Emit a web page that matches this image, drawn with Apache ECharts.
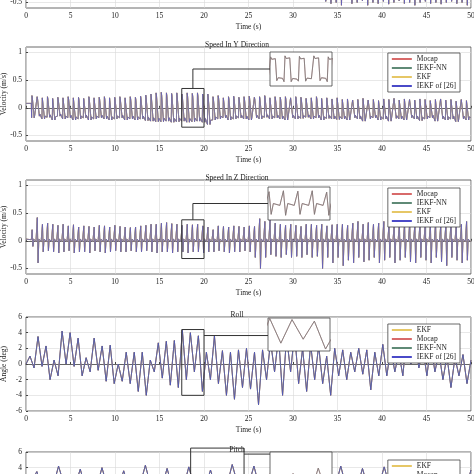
<!DOCTYPE html>
<html><head><meta charset="utf-8">
<script src="https://cdn.jsdelivr.net/npm/echarts@6/dist/echarts.min.js"></script>
<style>html,body{margin:0;padding:0;background:#fff;overflow:hidden}#c{width:474px;height:640px;margin-top:-100px}</style>
</head><body><div id="c"></div>
<script>
// x speed (only the bottom of that panel is in view)
const xPeak = [0.3,0.32,0.28,0.3,0.33,0.3,0.29,0.31,0.3,0.28,0.32,0.3,0.31,0.29,0.3,0.3,0.32,0.3,0.28,0.31,0.3,0.29,0.3,0.32,0.3,0.31,0.3,0.29,0.3,0.31,0.3,0.28,0.3,0.32,0.3,0.31,0.29,0.3,0.3,0.31,0.3,0.32,0.3,0.3,0.31,0.29,0.3,0.3,0.31,0.3,0.29,0.3,0.32,0.3,0.3,0.31,0.29,0.3,0.31,0.3,0.3,0.29,0.3,0.31,0.3,0.3,0.32,0.3,0.29,0.3,0.31,0.3,0.3,0.29,0.3,0.31,0.3,0.3,0.29,0.3,0.31,0.3,0.3,0.29];
const xDip = [-0.3,-0.28,-0.3,-0.32,-0.3,-0.29,-0.3,-0.31,-0.3,-0.28,-0.3,-0.32,-0.3,-0.3,-0.29,-0.31,-0.3,-0.3,-0.28,-0.3,-0.32,-0.3,-0.31,-0.3,-0.3,-0.29,-0.3,-0.31,-0.3,-0.3,-0.32,-0.3,-0.29,-0.3,-0.31,-0.3,-0.3,-0.32,-0.3,-0.3,-0.3,-0.31,-0.3,-0.3,-0.3,-0.32,-0.3,-0.3,-0.31,-0.3,-0.3,-0.3,-0.3,-0.3,-0.3,-0.3,-0.48,-0.52,-0.5,-0.55,-0.45,-0.52,-0.5,-0.47,-0.55,-0.5,-0.52,-0.48,-0.53,-0.5,-0.47,-0.52,-0.5,-0.55,-0.5,-0.48,-0.52,-0.5,-0.53,-0.5,-0.48,-0.52,-0.5,-0.55];
// speed in Y direction: plateau highs and lows per gait cycle
const yHigh = [0.22,0.2,0.18,0.2,0.17,0.19,0.18,0.2,0.18,0.19,0.17,0.2,0.18,0.19,0.2,0.18,0.19,0.2,0.18,0.2,0.19,0.21,0.23,0.25,0.27,
  0.28,0.27,0.26,0.27,0.25,0.27,0.26,0.27,0.25,
  0.25,0.2,0.22,0.18,0.2,0.21,0.19,0.2,0.21,0.19,0.2,0.22,0.18,0.2,0.19,0.2,0.18,0.2,0.19,0.17,0.18,0.2,0.17,0.18,0.16,0.18,
  0.15,0.16,0.14,0.15,0.17,0.14,0.15,0.13,0.16,0.15,0.17,0.14,0.16,0.15,0.14,0.16,0.15,0.13,0.15,0.16,0.14,0.15,0.12,0.15,0.13];
const yLow = [-0.18,-0.15,-0.2,-0.17,-0.22,-0.15,-0.2,-0.18,-0.22,-0.2,-0.18,-0.22,-0.2,-0.18,-0.2,-0.22,-0.2,-0.18,-0.22,-0.2,-0.22,-0.2,-0.23,-0.24,-0.25,
  -0.25,-0.24,-0.26,-0.25,-0.24,-0.26,-0.25,-0.24,-0.26,
  -0.3,-0.22,-0.2,-0.18,-0.22,-0.2,-0.18,-0.2,-0.22,-0.18,-0.2,-0.17,-0.2,-0.18,-0.2,-0.22,-0.18,-0.2,-0.19,-0.17,-0.2,-0.18,-0.22,-0.19,-0.2,-0.21,
  -0.2,-0.22,-0.18,-0.2,-0.24,-0.2,-0.18,-0.22,-0.2,-0.24,-0.19,-0.2,-0.22,-0.18,-0.2,-0.23,-0.2,-0.18,-0.24,-0.2,-0.22,-0.2,-0.25,-0.2,-0.22];
// speed in Z direction: spike peaks and dips per cycle
const zPeak = [0.2,0.42,0.3,0.32,0.3,0.28,0.3,0.27,0.29,0.25,0.27,0.26,0.25,0.28,0.27,0.25,0.28,0.26,0.25,0.24,0.25,0.27,0.28,0.3,0.3,
  0.32,0.33,0.31,0.3,0.28,0.3,0.29,0.3,0.27,
  0.25,0.2,0.27,0.26,0.25,0.27,0.26,0.25,0.27,0.26,0.4,0.35,0.38,0.32,0.3,0.28,0.3,0.28,0.26,0.3,0.3,0.28,0.3,0.27,0.29,0.3,
  0.3,0.28,0.32,0.35,0.3,0.33,0.3,0.32,0.35,0.3,0.28,0.32,0.3,0.33,0.3,0.35,0.3,0.3,0.32,0.28,0.3,0.35,0.3,0.3,0.35];
const zDip = [-0.1,-0.4,-0.2,-0.18,-0.2,-0.22,-0.2,-0.18,-0.22,-0.2,-0.2,-0.22,-0.18,-0.2,-0.22,-0.2,-0.18,-0.2,-0.2,-0.18,-0.2,-0.2,-0.18,-0.2,-0.22,
  -0.2,-0.2,-0.22,-0.2,-0.2,-0.22,-0.2,-0.2,-0.22,
  -0.2,-0.2,-0.18,-0.2,-0.22,-0.2,-0.2,-0.18,-0.2,-0.3,-0.5,-0.3,-0.25,-0.28,-0.3,-0.25,-0.3,-0.28,-0.3,-0.25,-0.3,-0.28,-0.5,-0.3,-0.4,-0.3,
  -0.45,-0.35,-0.4,-0.3,-0.38,-0.35,-0.3,-0.4,-0.35,-0.3,-0.4,-0.35,-0.3,-0.38,-0.4,-0.3,-0.35,-0.4,-0.3,-0.38,-0.45,-0.3,-0.35,-0.4,-0.35];
// roll angle extrema, alternating
const rollExt = [0,1,-0.5,3.5,-0.3,2.3,-2,0.5,-1.5,4.2,0,4,-0.3,3.3,-1.5,0.8,-1,3.3,-0.8,2.3,-2.2,2.4,-2.5,0,-2.2,1.5,-2.5,1.5,-3.5,1.5,-4,0.5,-1,2.7,-1.8,2.9,-2.7,3,-3,4.3,-2,4,-1,3.6,-3.5,1.5,-2,3.6,-2.5,
  1.7,-4,1.5,-4.5,1.8,-3,2,-3.2,1.5,-5.2,1.8,-2,2.9,-1,3.5,-4,3.5,-1,4,-2.5,2,-3.5,2.5,-2,2.3,-2.5,1,-4,2,-1.5,1.8,-2,1.5,-1,2,-1.3,1.8,-3.3,1.5,
  -1.5,2.5,-1.5,2,-1,1.5,-1.5,4,0,3.5,-0.5,2,-1.5,2.5,-1,1.5,-2,1,-3,0.8,-1.5,1.2,-2.5,0.5];
// pitch angle extrema, alternating (mostly out of view)
const pitchExt = [1,3.5,-1,4.2,-0.5,3.8,-1.2,4,-1,3.6,-0.8,4.3,-1,3.9,-1.2,4.1,-0.9,3.7,-1,4.4,-0.6,4.2,-1.1,4.5,-1,4,-0.8,3.8,-1,4.2,-1.2,3.9,-1,4.1,-0.7,3.8,-1,4,-0.9,4.3,-1,3.7];
const velTicks = [-0.5, 0, 0.5, 1];
const angTicks = [-6, -4, -2, 0, 2, 4, 6];
const names = ['Mocap', 'IEKF-NN', 'EKF', 'IEKF of [26]'];
const colors = { 'Mocap': '#d86a6a', 'IEKF-NN': '#5f8a76', 'EKF': '#e6c766', 'IEKF of [26]': '#4a4ac8' };

function squareWave(hi, lo, t0, t1) {
  const n = Math.min(hi.length, lo.length), P = (t1 - t0) / n, pts = [[0, 0.08], [t0, 0.08]];
  for (let i = 0; i < n; i++) {
    const t = t0 + i * P;
    pts.push([t + 0.05 * P, lo[i]], [t + 0.12 * P, hi[i]], [t + 0.2 * P, hi[i] * 0.8], [t + 0.45 * P, hi[i] * 0.85],
      [t + 0.55 * P, lo[i]], [t + 0.65 * P, lo[i] * 0.75], [t + 0.95 * P, lo[i] * 0.8]);
  }
  return pts;
}
function spikes(pk, dp, t0, t1) {
  const n = Math.min(pk.length, dp.length), P = (t1 - t0) / n, pts = [[0, 0.03]];
  for (let i = 0; i < n; i++) {
    const t = t0 + i * P;
    pts.push([t, 0.02], [t + 0.15 * P, pk[i]], [t + 0.3 * P, dp[i]], [t + 0.45 * P, 0.03], [t + 0.9 * P, -0.01]);
  }
  return pts;
}
function zigzag(ext) {
  return ext.map((v, i) => [i * 50 / (ext.length - 1), v]);
}

const OFF = 100; // div is shifted up by this much so the top panel can be partly shown
const panels = [
  { title: '', top: 8 - 94, min: -0.6, max: 1.1, ticks: velTicks, yname: '', data: spikes(xPeak, xDip, 0.5, 50), order: names },
  { title: 'Speed In Y Direction', top: 47, min: -0.6, max: 1.1, ticks: velTicks, yname: 'Velocity (m/s)', data: squareWave(yHigh, yLow, 0.6, 50), order: names,
    box: [17.5, 20, -0.35, 0.35], inset: [270, 52, 62, 34], legendTop: 53 },
  { title: 'Speed In Z Direction', top: 180, min: -0.6, max: 1.1, ticks: velTicks, yname: 'Velocity (m/s)', data: spikes(zPeak, zDip, 0.6, 50), order: names,
    box: [17.5, 20, -0.32, 0.38], inset: [268, 187, 62, 33], legendTop: 188 },
  { title: 'Roll', top: 317, min: -6, max: 6, ticks: angTicks, yname: 'Angle (deg)', data: zigzag(rollExt), order: ['EKF', 'Mocap', 'IEKF-NN', 'IEKF of [26]'],
    box: [17.5, 20, -4, 4.4], inset: [268, 318, 62, 33], legendTop: 324, side: true },
  { title: 'Pitch', top: 452, min: -6, max: 6, ticks: angTicks, yname: 'Angle (deg)', data: zigzag(pitchExt), order: ['EKF', 'Mocap', 'IEKF-NN', 'IEKF of [26]'],
    box: [18.5, 24.5, 2.2, 6.5], inset: [270, 452, 62, 33], legendTop: 460, side: true }
];

const font = 'Liberation Serif';
const H = 94;
const option = { animation: false, title: [], grid: [], xAxis: [], yAxis: [], series: [], legend: [] };
panels.forEach(p => {
  option.grid.push({ left: 26, right: 3, top: p.top + OFF, height: H, show: true, borderColor: '#444', borderWidth: 0.8, outerBoundsMode: 'none' });
  const gi = option.grid.length - 1;
  option.xAxis.push({ type: 'value', gridIndex: gi, min: 0, max: 50, interval: 5,
    axisLine: { lineStyle: { color: '#444', width: 0.8 } }, axisTick: { inside: true, length: 2, lineStyle: { color: '#444' } },
    axisLabel: { fontFamily: font, fontSize: 7.5, color: '#222', margin: 4, showMaxLabel: true },
    splitLine: { lineStyle: { color: '#d8d8d8', width: 0.6 } },
    name: 'Time (s)', nameLocation: 'middle', nameGap: 15, nameMoveOverlap: false, nameTextStyle: { fontFamily: font, fontSize: 7.5, color: '#222' } });
  option.yAxis.push({ type: 'value', gridIndex: gi, min: p.min, max: p.max,
    axisLine: { show: false }, axisTick: { inside: true, length: 2, customValues: p.ticks, lineStyle: { color: '#444' } },
    axisLabel: { fontFamily: font, fontSize: 7.5, color: '#222', margin: 4, customValues: p.ticks },
    splitLine: { lineStyle: { color: '#d8d8d8', width: 0.6 } },
    name: p.yname, nameLocation: 'middle', nameGap: 18, nameMoveOverlap: false, nameTextStyle: { fontFamily: font, fontSize: 7.5, color: '#222' } });
  if (p.title) option.title.push({ text: p.title, left: 'center', top: p.top + OFF - 11, textStyle: { fontFamily: font, fontSize: 7.5, fontWeight: 'normal', color: '#222' } });
  p.order.forEach(n => {
    option.series.push({ name: n, type: 'line', xAxisIndex: gi, yAxisIndex: gi, data: p.data, showSymbol: false,
      lineStyle: { width: n === 'IEKF of [26]' ? 0.6 : 0.8, color: colors[n] }, itemStyle: { color: colors[n] }, z: n === 'IEKF of [26]' ? 3 : 2 });
  });
  if (p.legendTop) {
    option.legend.push({ data: p.order, orient: 'vertical', right: 14, top: p.legendTop + OFF, itemWidth: 20, itemHeight: 2, itemGap: 1,
      padding: [2, 4, 2, 4], borderColor: '#444', borderWidth: 0.8, backgroundColor: '#fff', icon: 'rect', z: 20,
      textStyle: { fontFamily: font, fontSize: 7.5, color: '#222' } });
  }
  if (p.inset) {
    const [ix, iy, iw, ih] = p.inset;
    option.grid.push({ left: ix, top: iy + OFF, width: iw, height: ih, show: true, backgroundColor: '#fff', borderColor: '#444', borderWidth: 0.8, z: 10, outerBoundsMode: 'none' });
    const ii = option.grid.length - 1;
    option.xAxis.push({ type: 'value', gridIndex: ii, min: p.box[0], max: p.box[1], show: false });
    option.yAxis.push({ type: 'value', gridIndex: ii, min: p.box[2], max: p.box[3], show: false });
    ['Mocap', 'IEKF of [26]'].forEach(n => {
      option.series.push({ name: n, type: 'line', xAxisIndex: ii, yAxisIndex: ii, data: p.data, showSymbol: false, z: 11,
        lineStyle: { width: 0.8, color: n === 'Mocap' ? '#c99' : '#777' } });
    });
  }
});

const chart = echarts.init(document.getElementById('c'));
chart.setOption(option);

// zoom boxes and their connector lines
const graphic = [];
let gi = 0;
panels.forEach(p => {
  const mainIdx = gi;
  gi += p.inset ? 2 : 1;
  if (!p.box) return;
  const a = chart.convertToPixel({ gridIndex: mainIdx }, [p.box[0], p.box[3]]);
  const b = chart.convertToPixel({ gridIndex: mainIdx }, [p.box[1], p.box[2]]);
  graphic.push({ type: 'rect', shape: { x: a[0], y: a[1], width: b[0] - a[0], height: b[1] - a[1] }, z: 15,
    style: { fill: 'none', stroke: '#333', lineWidth: 1 } });
  const [ix, iy, iw, ih] = p.inset;
  let pts;
  if (p.side) pts = [[b[0], a[1] + 6], [ix, a[1] + 6]];
  else { const mx = (a[0] + b[0]) / 2, my = iy + OFF + ih / 2; pts = [[mx, a[1]], [mx, my], [ix, my]]; }
  graphic.push({ type: 'polyline', shape: { points: pts }, z: 15, style: { stroke: '#333', lineWidth: 1, fill: 'none' } });
});
chart.setOption({ graphic: graphic });
</script></body></html>
